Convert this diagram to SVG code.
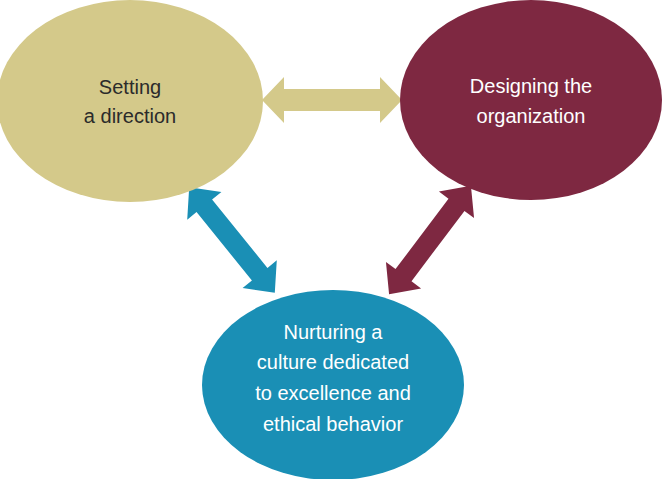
<svg xmlns="http://www.w3.org/2000/svg" width="664" height="479" viewBox="0 0 664 479">
<style>
text{font-family:"Liberation Sans",Arial,sans-serif;font-size:20px;text-anchor:middle}
.lt{fill:#ffffff}.dk{fill:#2b2b2b}
</style>
<rect width="664" height="479" fill="#ffffff"/>
<g id="connectors">
<polygon fill="#D4C98A" transform="translate(332,100)" points="-70,0 -48,-23 -48,-11 48,-11 48,-23 70,0 48,23 48,11 -48,11 -48,23"/>
<polygon fill="#1A8FB5" transform="translate(232,240) rotate(51)" points="-68,0 -44,-22 -44,-10 44,-10 44,-22 68,0 44,22 44,10 -44,10 -44,22"/>
<polygon fill="#7E2841" transform="translate(430,240) rotate(127)" points="-68,0 -44,-22 -44,-10 44,-10 44,-22 68,0 44,22 44,10 -44,10 -44,22"/>
</g>
<g id="node-direction">
<ellipse cx="130" cy="101" rx="133" ry="101" fill="#D4C98A"/>
<text class="dk" x="130" y="94">Setting</text>
<text class="dk" x="130" y="123">a direction</text>
</g>
<g id="node-organization">
<ellipse cx="531" cy="100" rx="131" ry="100" fill="#7E2841"/>
<text class="lt" x="531" y="93">Designing the</text>
<text class="lt" x="531" y="123">organization</text>
</g>
<g id="node-culture">
<ellipse cx="333" cy="385" rx="131" ry="95" fill="#1A8FB5"/>
<text class="lt" x="333" y="339">Nurturing a</text>
<text class="lt" x="333" y="369">culture dedicated</text>
<text class="lt" x="333" y="400">to excellence and</text>
<text class="lt" x="333" y="431">ethical behavior</text>
</g>
</svg>
